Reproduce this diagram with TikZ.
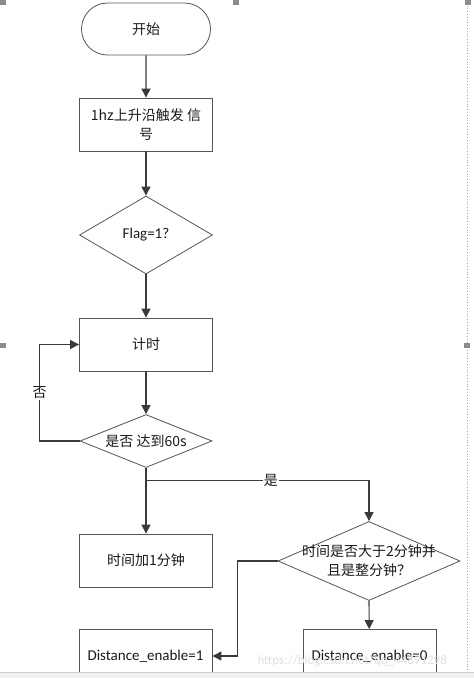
\documentclass[tikz,border=0pt]{standalone}
\usepackage{fontspec}
\setmainfont{Carlito}
\newfontfamily\cjk{Noto Sans CJK SC}
\usetikzlibrary{arrows.meta, positioning, shapes.geometric, shapes.misc}
\definecolor{fcLine}{HTML}{3A3A3A}
\definecolor{fcEdge}{HTML}{555555}
\definecolor{fcText}{HTML}{1A1A1A}
\definecolor{fcHandle}{HTML}{8C8C8C}
\definecolor{fcBar}{HTML}{F0F0F0}

\begin{document}
\begin{tikzpicture}[
    x=1pt, y=-1pt,
    >={Triangle[length=9pt, width=9pt]},
    every node/.style={font=\fontsize{15}{19}\selectfont, text=fcText},
    % --- node styles ---
    box/.style={draw=fcEdge, line width=0.8pt, fill=white,
                minimum width=133, minimum height=53,
                inner sep=2pt, align=center},
    terminal/.style={box, rounded rectangle, minimum height=52},
    decision/.style={draw=fcEdge, line width=0.8pt, fill=white, diamond,
                     inner sep=0pt, align=center},
    % --- annotation styles ---
    arr/.style={->, line width=1.1pt, color=fcLine},
    lbl/.style={fill=white, inner sep=1pt, font=\cjk\fontsize{14}{16}\selectfont},
]
\useasboundingbox (0,0) rectangle (474,678);

% ===== MAIN COLUMN ==========================================================
\node[terminal, font=\cjk\fontsize{14}{19}\selectfont] (start) at (146,29) {开始};
\node[box, font=\cjk\fontsize{14}{19}\selectfont] (trig) at (146,124.5)
    {1hz上升沿触发 信\\号};
\node[decision, minimum width=133, minimum height=78, shape aspect=1.7]
    (flag) at (146,235) {Flag=1?};
\node[box, font=\cjk\fontsize{14}{19}\selectfont] (tmr) at (146,344.5) {计时};
\node[decision, minimum width=132, minimum height=53, shape aspect=2.5,
      font=\cjk\fontsize{14}{19}\selectfont] (chk60) at (146,441) {是否 达到60s};
\node[box, font=\cjk\fontsize{14}{19}\selectfont] (addmin) at (146,560.5) {时间加1分钟};

% ===== RIGHT BRANCH =========================================================
\node[decision, minimum width=182, minimum height=79,
      label={[align=center, font=\cjk\fontsize{14}{19}\selectfont]center:时间是否大于2分钟并\\且是整分钟？}]
    (chk2) at (369,561) {};
\node[box] (en1) at (145.5,656) {Distance\_enable=1};
\node[box] (en0) at (369.5,656) {Distance\_enable=0};

% -- Arrows --
\draw[arr] (start) -- (trig);
\draw[arr] (trig)  -- (flag);
\draw[arr] (flag)  -- (tmr);
\draw[arr] (tmr)   -- (chk60);
\draw[arr] (chk60.west) -- ++(-40,0) |- (tmr.west)
    node[lbl, pos=0.25] {否};
\draw[arr] (chk60.south) -- (addmin);
\draw[arr] (chk60.south) -- ++(0,13) -| (chk2.north)
    node[lbl, pos=0.28] {是};
\draw[arr] (chk2.west) -- ++(-40,0) |- (en1.east);
\draw[arr] (chk2.south) -- (en0);

% ===== WINDOW FRAME =========================================================
\node[font=\fontsize{13}{13}\selectfont, text=black!12, anchor=west]
    (wmark) at (254,661) {https://blog.csdn.net/qq\_44891298};
\draw[dotted, black!35, line width=0.8pt] (467,0) -- (467,672);
\fill[fcBar] (0,672) rectangle (474,678);
\draw[black!20, line width=0.6pt] (0,672) -- (474,672);
\foreach \hx/\hy in {0/0, 233/0, 465/0, 0/343, 464/343}
    \fill[fcHandle] (\hx,\hy) rectangle ++(6,5);

\end{tikzpicture}
\end{document}
